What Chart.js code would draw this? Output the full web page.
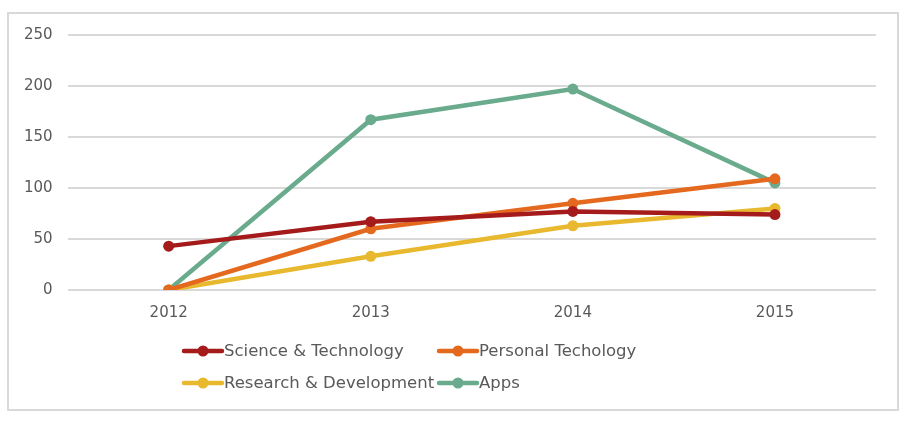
<!DOCTYPE html>
<html>
<head>
<meta charset="utf-8">
<script src="https://cdn.jsdelivr.net/npm/chart.js@4"></script>
<style>
  body { margin: 0; background: #fff; }
  #wrap {
    position: absolute; left: 7px; top: 12px;
    width: 888px; height: 395px;
    border: 2px solid #d9d9d9;
  }
  #Chart { position: absolute; left: 0; top: -3px; }
</style>
</head>
<body>
<div id="wrap"><canvas id="Chart" width="888" height="395"></canvas></div>
<script>
const years = ["2012", "2013", "2014", "2015"];
const seriesNames = ["Science & Technology", "Personal Techology", "Research & Development", "Apps"];
const science = [43, 67, 77, 74];
const personal = [0, 60, 85, 109];
const research = [0, 33, 63, 80];
const apps = [0, 167, 197, 105];
const yTicks = [0, 50, 100, 150, 200, 250];

const colors = ["#a51b1b", "#e4691f", "#e8b92f", "#6aab8e"];
const font = "'DejaVu Sans', sans-serif";

// legend drawn in two columns like the original
const columnLegend = {
  id: "columnLegend",
  afterDraw(chart) {
    const { ctx } = chart;
    const cols = [173, 428];
    const rows = [340, 372];
    ctx.save();
    ctx.font = "16.5px " + font;
    ctx.textBaseline = "middle";
    chart.data.datasets.forEach((ds, i) => {
      const x = cols[i % 2];
      const y = rows[Math.floor(i / 2)];
      ctx.strokeStyle = ds.borderColor;
      ctx.lineWidth = 4.5;
      ctx.lineCap = "round";
      ctx.beginPath();
      ctx.moveTo(x + 2, y);
      ctx.lineTo(x + 40, y);
      ctx.stroke();
      ctx.fillStyle = ds.borderColor;
      ctx.beginPath();
      ctx.arc(x + 21, y, 5.5, 0, Math.PI * 2);
      ctx.fill();
      ctx.fillStyle = "#595959";
      ctx.fillText(ds.label, x + 42, y + 1);
    });
    ctx.restore();
  },
};

const allData = [science, personal, research, apps];

new Chart(document.getElementById("Chart"), {
  type: "line",
  data: {
    labels: years,
    datasets: allData.map((d, i) => ({
      label: seriesNames[i],
      data: d,
      borderColor: colors[i],
      backgroundColor: colors[i],
      borderWidth: 4.5,
      pointRadius: 5.5,
      pointBorderWidth: 0,
      tension: 0,
    })),
  },
  options: {
    responsive: false,
    animation: false,
    layout: { padding: { left: 0, right: 21, top: 6, bottom: 78 } },
    plugins: {
      legend: { display: false },
      tooltip: { enabled: false },
    },
    scales: {
      x: {
        offset: true,
        grid: { display: false },
        border: { display: false },
        ticks: { color: "#595959", font: { family: font, size: 15 }, padding: 6 },
      },
      y: {
        min: 0,
        max: 250,
        afterBuildTicks(axis) {
          axis.ticks = yTicks.map((v) => ({ value: v }));
        },
        grid: { color: "#d9d9d9", lineWidth: 2, drawTicks: false },
        border: { display: false },
        ticks: { color: "#595959", font: { family: font, size: 15 }, padding: 15 },
      },
    },
  },
  plugins: [columnLegend],
});
</script>
</body>
</html>
